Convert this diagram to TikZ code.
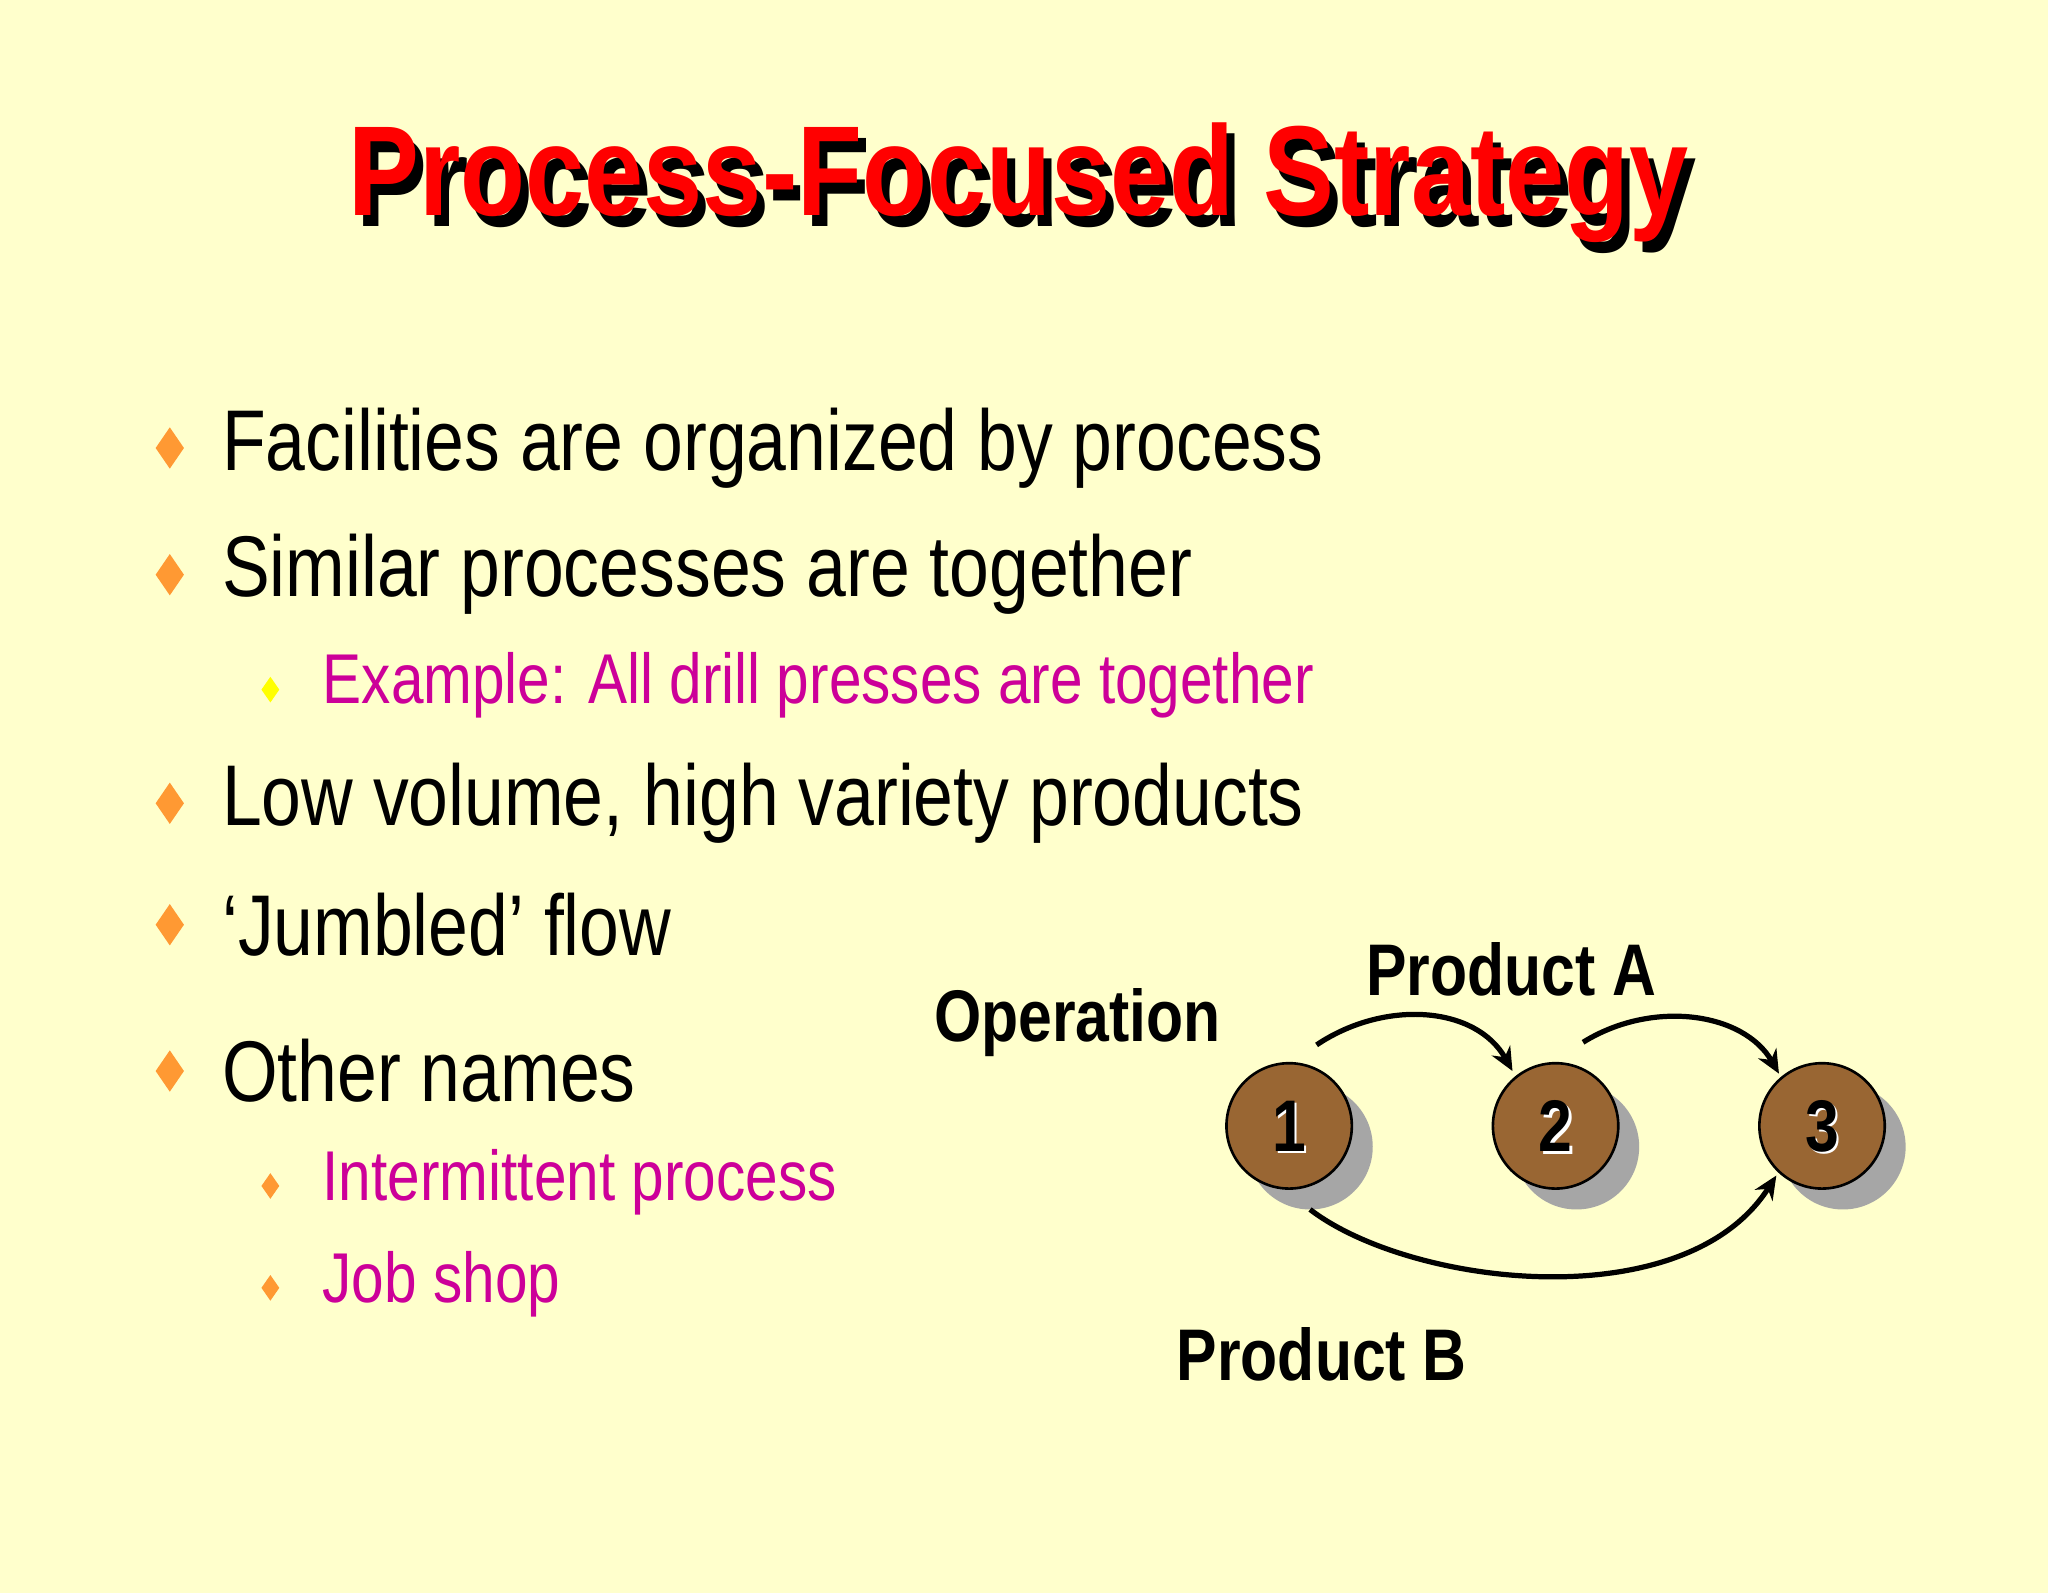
\documentclass[tikz,border=0pt]{standalone}
\usepackage{fontspec}
\setmainfont{Liberation Sans}[FakeStretch=0.83]
\usetikzlibrary{shapes.geometric,arrows.meta}
\definecolor{bg}{HTML}{FFFFCC}
\definecolor{ttl}{HTML}{FF0000}
\definecolor{mag}{HTML}{CC0099}
\definecolor{org}{HTML}{FF9933}
\definecolor{ylw}{HTML}{FFFF00}
\definecolor{brn}{HTML}{996633}
\tikzset{
 bul/.style={diamond,fill=org,inner sep=0pt,minimum width=11pt,minimum height=16pt},
 sbul/.style={diamond,inner sep=0pt,minimum width=7pt,minimum height=10pt},
 mtxt/.style={anchor=west,font=\fontsize{33}{36}\selectfont,text=black},
 stxt/.style={anchor=west,font=\fontsize{27}{30}\selectfont,text=mag},
 lbl/.style={font=\bfseries\fontsize{28}{30}\selectfont},
 op/.style={circle,draw=black,line width=1pt,fill=brn,minimum size=48pt,inner sep=0pt},
 sh/.style={circle,fill=gray!70,minimum size=48pt,inner sep=0pt},
 arr/.style={line width=2pt,-{Stealth[length=9pt,width=8pt]}}
}
\begin{document}
\begin{tikzpicture}[x=0.5pt,y=-0.5pt]
\fill[bg] (0,0) rectangle (1568,1220);
\useasboundingbox (0,0) rectangle (1568,1220);
\node[font=\bfseries\fontsize{49}{54}\selectfont,text=black] at (786,148) {Process-Focused Strategy};
\node[font=\bfseries\fontsize{49}{54}\selectfont,text=ttl] (title) at (780,140) {Process-Focused Strategy};
\foreach \y/\t [count=\i] in {343/Facilities are organized by process,440/Similar processes are together,615/{Low volume, high variety products},708/‘Jumbled’ flow,820/Other names}{
 \node[bul] (b\i) at (130,\y) {};
 \node[mtxt] (t\i) at (163,\y) {\t};
}
\node[sbul,fill=ylw] (s1) at (207,528) {};
\node[stxt] (u1) at (240,525) {Example: All drill presses are together};
\node[sbul,fill=org] (s2) at (207,908) {};
\node[stxt] (u2) at (240,905) {Intermittent process};
\node[sbul,fill=org] (s3) at (207,986) {};
\node[stxt] (u3) at (240,983) {Job shop};
\foreach \x/\n in {987/1,1191/2,1395/3}{
 \node[sh] at (\x+16,878) {};
 \node[op] (c\n) at (\x,862) {};
 \node[lbl,text=white] at (\x+2,864) {\n};
 \node[lbl] at (\x,862) {\n};
}
\coordinate (a1) at (1008,800);\coordinate (a2) at (1158,820);
\coordinate (a3) at (1212,798);\coordinate (a4) at (1362,822);
\coordinate (p1) at (1003,926);\coordinate (p2) at (1360,900);
\draw[arr] (a1) .. controls (1060,765) and (1130,770) .. (a2);
\draw[arr] (a3) .. controls (1265,765) and (1335,775) .. (a4);
\draw[arr] (p1) .. controls (1080,985) and (1290,1010) .. (p2);
\node[lbl] (pa) at (1157,742) {Product A};
\node[lbl] (opn) at (825,783) {Operation};
\node[lbl] (pb) at (1012,1037) {Product B};
\end{tikzpicture}
\end{document}
